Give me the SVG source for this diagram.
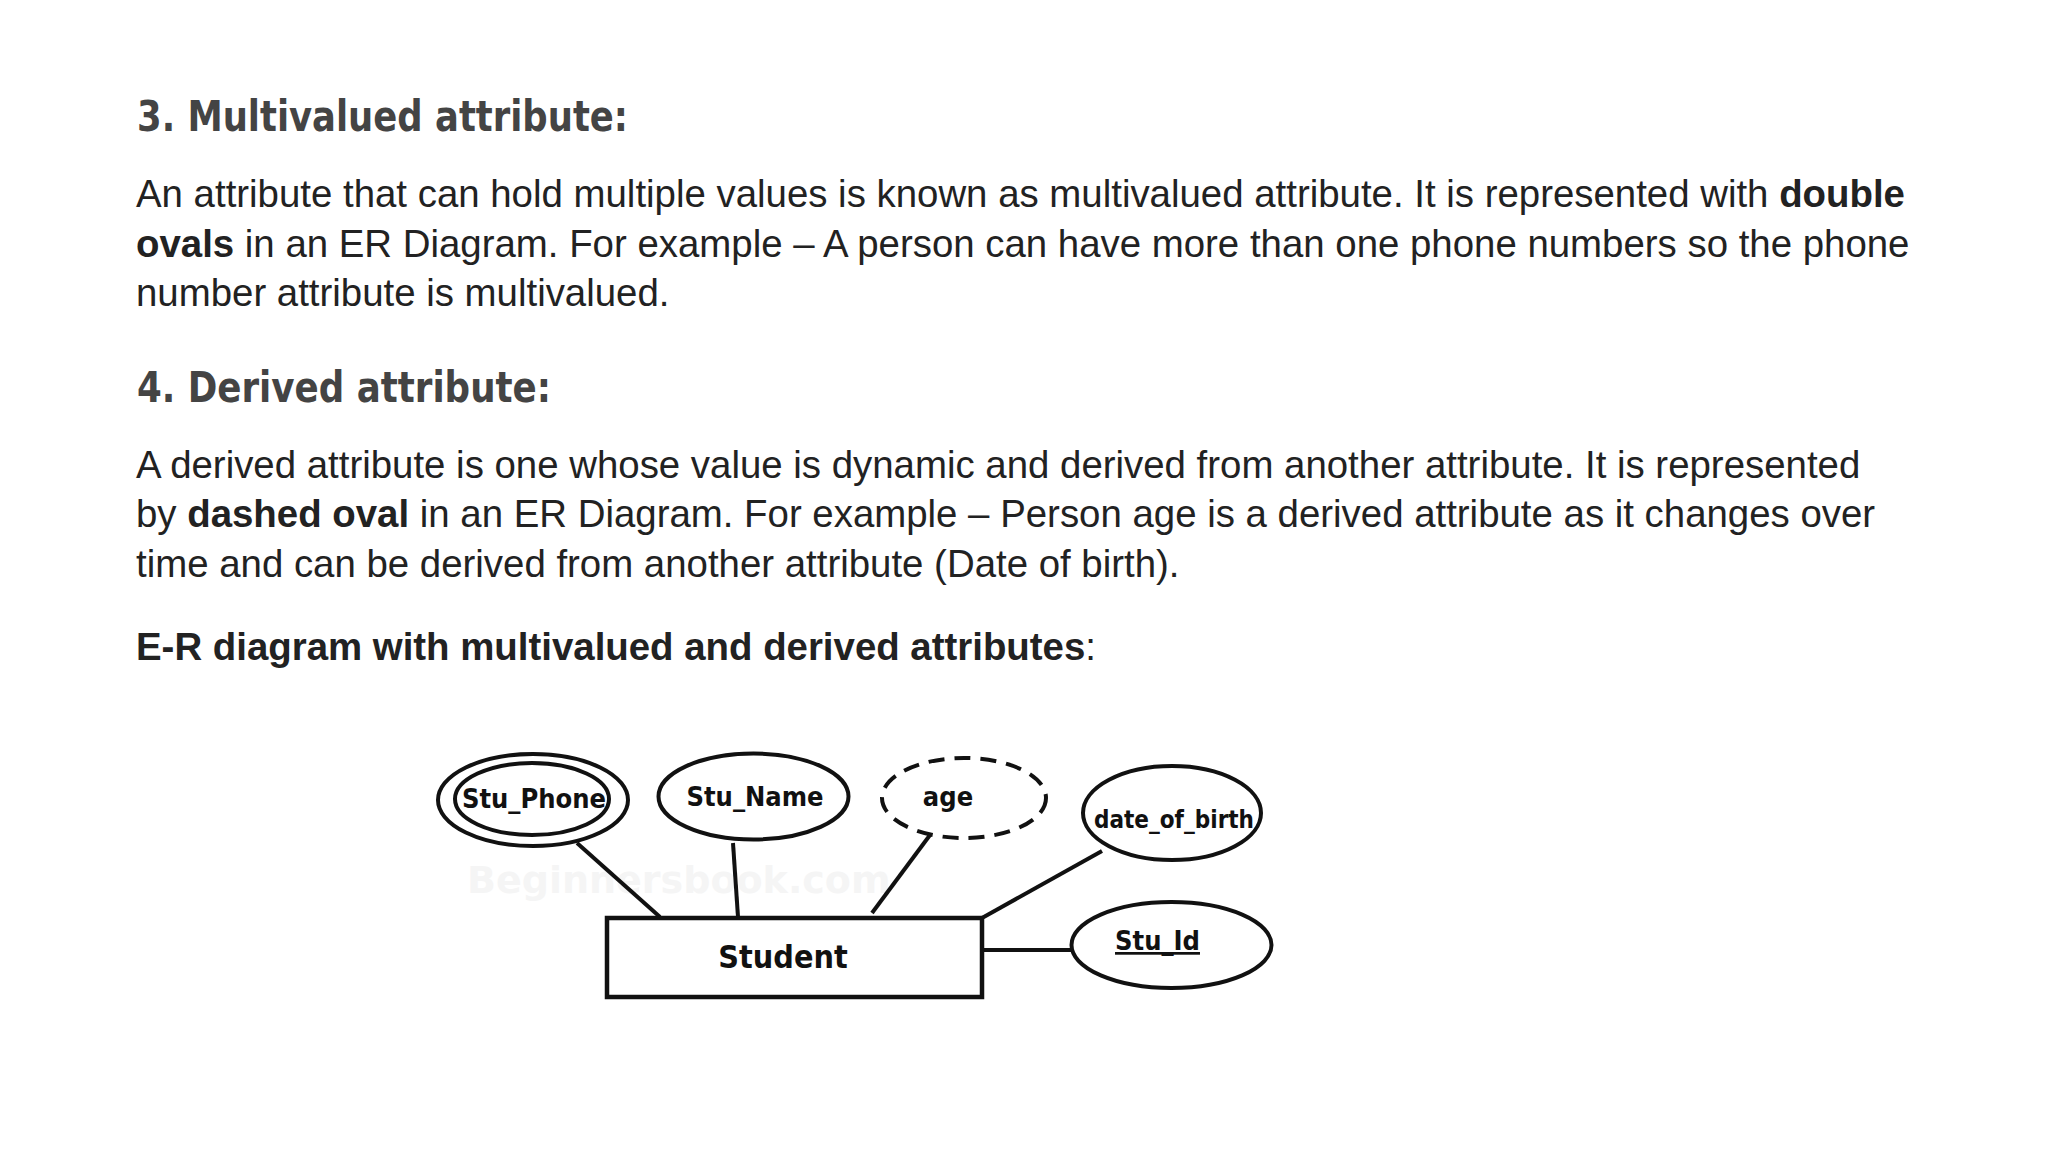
<svg xmlns="http://www.w3.org/2000/svg" width="2048" height="1152" viewBox="0 0 2048 1152">
<style>
.h{font-family:"DejaVu Sans Condensed","DejaVu Sans",sans-serif;font-weight:700;font-size:42px;fill:#444}
.b{font-family:"Liberation Sans",Arial,sans-serif;font-size:38.4px;fill:#222}
.s{font-weight:700}
.n{font-family:"DejaVu Sans Condensed","DejaVu Sans",sans-serif;font-weight:700;font-size:27px;fill:#111;text-anchor:middle}
.o{fill:none;stroke:#111;stroke-width:4}
.c line{stroke:#111;stroke-width:4}
</style>
<rect width="2048" height="1152" fill="#fff"/>
<text class="h" x="137" y="131" textLength="491" lengthAdjust="spacingAndGlyphs">3. Multivalued attribute:</text>
<text class="b" x="136" y="207">An attribute that can hold multiple values is known as multivalued attribute. It is represented with <tspan class="s">double</tspan></text>
<text class="b" x="136" y="256.5"><tspan class="s">ovals</tspan> in an ER Diagram. For example – A person can have more than one phone numbers so the phone</text>
<text class="b" x="136" y="306">number attribute is multivalued.</text>
<text class="h" x="137" y="402" textLength="414" lengthAdjust="spacingAndGlyphs">4. Derived attribute:</text>
<text class="b" x="136" y="478">A derived attribute is one whose value is dynamic and derived from another attribute. It is represented</text>
<text class="b" x="136" y="527">by <tspan class="s">dashed oval</tspan> in an ER Diagram. For example – Person age is a derived attribute as it changes over</text>
<text class="b" x="136" y="576.5">time and can be derived from another attribute (Date of birth).</text>
<text class="b" x="136" y="660"><tspan class="s">E-R diagram with multivalued and derived attributes</tspan>:</text>
<text x="467" y="893" font-family="'DejaVu Sans',sans-serif" font-weight="700" font-size="38" fill="#f5f5f5">Beginnersbook.com</text>
<g id="connectors" class="c">
<line x1="577" y1="843" x2="660" y2="917"/>
<line x1="733" y1="843" x2="738" y2="917"/>
<line x1="930" y1="835" x2="872" y2="913"/>
<line x1="1102" y1="851" x2="982" y2="918"/>
<line x1="982" y1="950" x2="1071" y2="950"/>
</g>
<g id="stu_phone"><ellipse class="o" cx="533" cy="800" rx="95" ry="46"/><ellipse class="o" cx="532" cy="799" rx="77" ry="36"/><text class="n" x="534" y="808">Stu_Phone</text></g>
<g id="stu_name"><ellipse class="o" cx="753.5" cy="796.5" rx="95" ry="43"/><text class="n" x="755" y="806">Stu_Name</text></g>
<g id="age"><ellipse class="o" cx="964" cy="798" rx="82" ry="40" stroke-dasharray="16 10"/><text class="n" x="948" y="806">age</text></g>
<g id="date_of_birth"><ellipse class="o" cx="1172" cy="813" rx="89" ry="47"/><text class="n" x="1174" y="828" style="font-size:24px">date_of_birth</text></g>
<g id="stu_id"><ellipse class="o" cx="1171.5" cy="945" rx="100" ry="43"/><text class="n" x="1157.5" y="950" text-decoration="underline">Stu_Id</text></g>
<g id="student"><rect class="o" x="607" y="918" width="375" height="79" style="stroke-width:4.5"/><text class="n" x="783" y="968" style="font-size:32px">Student</text></g>
</svg>
